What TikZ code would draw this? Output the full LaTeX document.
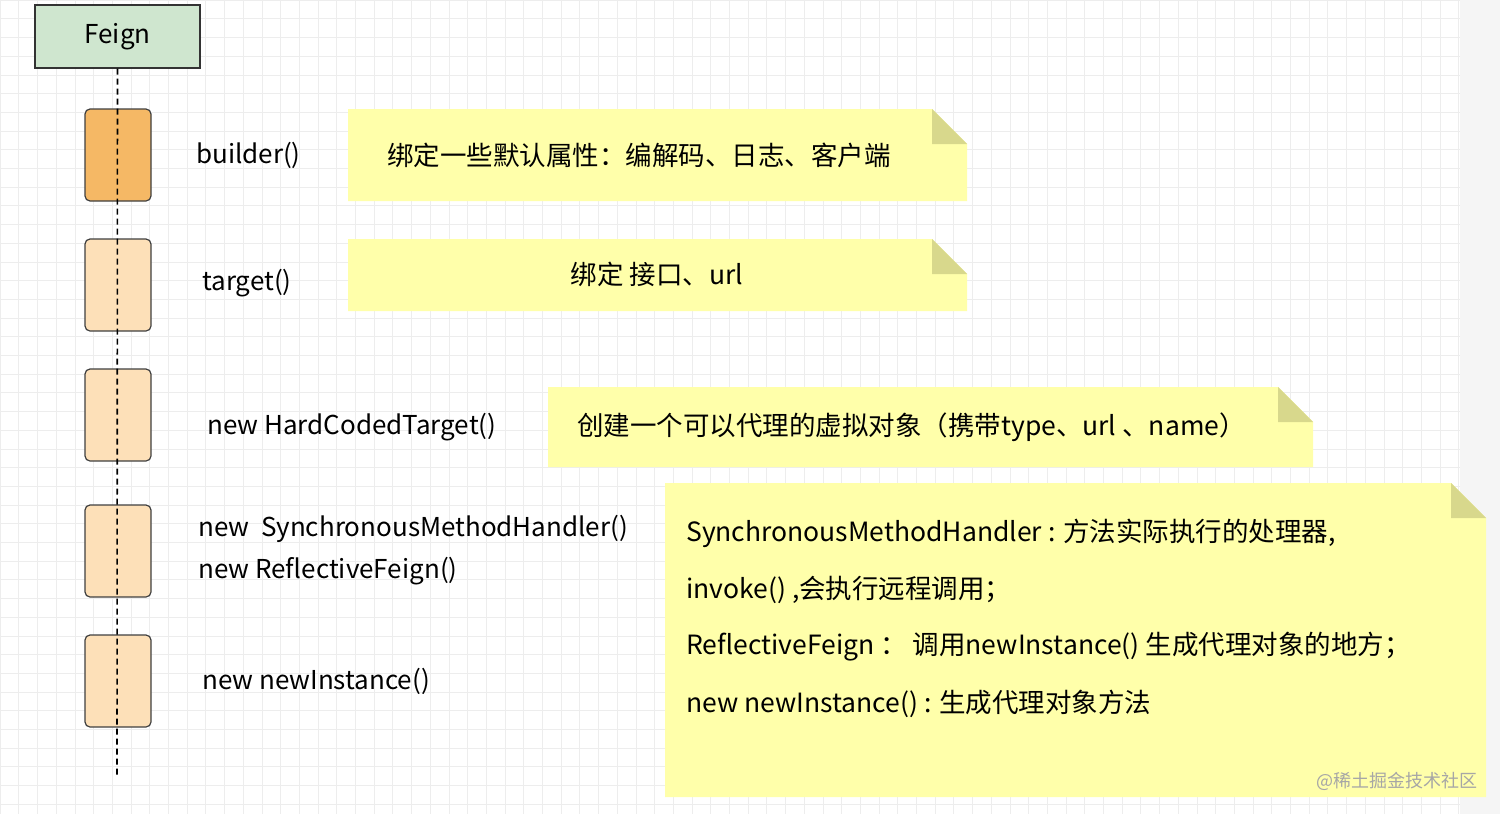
\documentclass[tikz,border=0pt]{standalone}
\usepackage{fontspec}
\setmainfont{Noto Sans CJK SC}
\definecolor{hdr}{RGB}{207,230,207}
\definecolor{actA}{RGB}{245,184,101}
\definecolor{actB}{RGB}{253,224,184}
\definecolor{noteY}{RGB}{255,255,170}
\definecolor{noteF}{RGB}{216,216,140}
\begin{document}
\begin{tikzpicture}[x=1pt,y=-1pt,
  act/.style={draw=black!75,line width=1.2pt,rounded corners=5pt,fill=#1,minimum width=66pt,minimum height=92pt},
  lbl/.style={anchor=west,font=\fontsize{26}{30}\selectfont,inner sep=0},
  notetxt/.style={anchor=west,font=\fontsize{26.5}{30}\selectfont,inner sep=0}]
\useasboundingbox (0,0) rectangle (1500,814);
\fill[white] (0,0) rectangle (1500,814);
\foreach \i in {0,...,78} {\draw[black!7,line width=0.6pt] (\i*18.7,0) -- (\i*18.7,814);}
\foreach \j in {0,...,43} {\draw[black!7,line width=0.6pt] (0,\j*18.7) -- (1460,\j*18.7);}
\fill[black!4] (1460,0) rectangle (1500,814);
% Feign header
\node[draw=black!80,line width=1.2pt,fill=hdr,minimum width=165pt,minimum height=63pt,font=\fontsize{26}{30}\selectfont] (feign) at (117.5,36.5) {Feign};
\coordinate (lend) at (117,775);
% activation boxes
\node[act=actA] (a1) at (118,155) {};
\node[act=actB] (a2) at (118,285) {};
\node[act=actB] (a3) at (118,415) {};
\node[act=actB] (a4) at (118,551) {};
\node[act=actB] (a5) at (118,681) {};
\draw[dash pattern=on 6pt off 4pt,line width=1.6pt] (feign.south) -- (lend);
% labels
\node[lbl] (l1) at (196,155) {builder()};
\node[lbl] (l2) at (202,283) {target()};
\node[lbl] (l3) at (207,427) {new HardCodedTarget()};
\node[lbl] (l4) at (198,529) {new\ \ SynchronousMethodHandler()};
\node[lbl] (l5) at (198,571) {new ReflectiveFeign()};
\node[lbl] (l6) at (202,681) {new newInstance()};
% notes
\def\note#1#2#3#4{\fill[noteY] (#1,#2) -- (#3-35,#2) -- (#3,#2+35) -- (#3,#4) -- (#1,#4) -- cycle;
 \fill[noteF] (#3-35,#2) -- (#3,#2+35) -- (#3-35,#2+35) -- cycle;}
\note{348}{109}{967}{201}
\note{348}{239}{967}{311}
\note{548}{387}{1313}{467}
\note{665}{483}{1486}{797}
\node[notetxt] (n1) at (387,155) {绑定一些默认属性：编解码、日志、客户端};
\node[notetxt,anchor=center] (n2) at (657,274) {绑定 接口、url};
\node[notetxt] (n3) at (577,427) {创建一个可以代理的虚拟对象（携带type、url 、name）};
\node[notetxt] (n4) at (686,533) {SynchronousMethodHandler : 方法实际执行的处理器,};
\node[notetxt] (n5) at (686,590) {invoke() ,会执行远程调用；};
\node[notetxt] (n6) at (686,647) {ReflectiveFeign ：\ 调用newInstance() 生成代理对象的地方；};
\node[notetxt] (n7) at (686,704) {new newInstance() : 生成代理对象方法};
\node[anchor=east,text=black!35,font=\fontsize{18}{20}\selectfont,inner sep=0] (wm) at (1478,781) {@稀土掘金技术社区};
\end{tikzpicture}
\end{document}
